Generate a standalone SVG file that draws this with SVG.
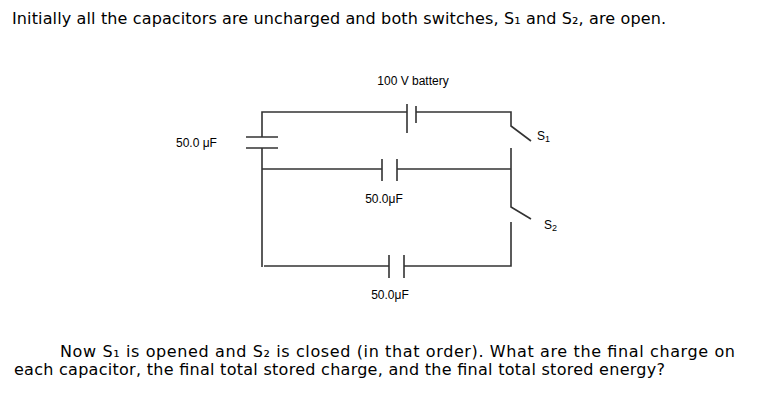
<svg xmlns="http://www.w3.org/2000/svg" width="770" height="404" viewBox="0 0 770 404">
<style>
.w{stroke:#333;stroke-width:1.6;fill:none}
.t{font-family:"DejaVu Sans",Verdana,sans-serif;font-size:16px;fill:#000}
.l{font-family:"Liberation Sans",Arial,sans-serif;font-size:12px;fill:#000}
</style>
<rect width="770" height="404" fill="#fff"/>
<text class="t" x="12" y="24" textLength="654" lengthAdjust="spacing">Initially all the capacitors are uncharged and both switches, S₁ and S₂,  are open.</text>
<g id="connectors">
<path class="w" d="M407 112H262V137M416 112H511V126L531 141"/>
<path class="w" d="M262 148V267M262 169H382M397 169H511V148M511 169V207L531 219"/>
<path class="w" d="M511 222V266H404M389 266H264"/>
</g>
<g id="battery"><path class="w" d="M407 104V133M416 106V123"/><text class="l" x="413" y="85" text-anchor="middle">100 V battery</text></g>
<g id="c1"><path class="w" d="M246 137H278M246 148H278"/><text class="l" x="176" y="147">50.0 μF</text></g>
<g id="c2"><path class="w" d="M382 159V181M397 159V181"/><text class="l" x="384" y="203" text-anchor="middle">50.0μF</text></g>
<g id="c3"><path class="w" d="M389 255V278M404 255V278"/><text class="l" x="390" y="299" text-anchor="middle">50.0μF</text></g>
<g id="s1"><text class="l" x="537" y="140">S<tspan font-size="9" dy="2">1</tspan></text></g>
<g id="s2"><text class="l" x="544" y="229">S<tspan font-size="9" dy="2">2</tspan></text></g>
<text class="t" x="60" y="357" textLength="675" lengthAdjust="spacing">Now S₁ is opened and S₂ is closed (in that order). What are the final charge on</text>
<text class="t" x="14" y="375" textLength="651" lengthAdjust="spacing">each capacitor, the final total stored charge, and the final total stored energy?</text>
</svg>
